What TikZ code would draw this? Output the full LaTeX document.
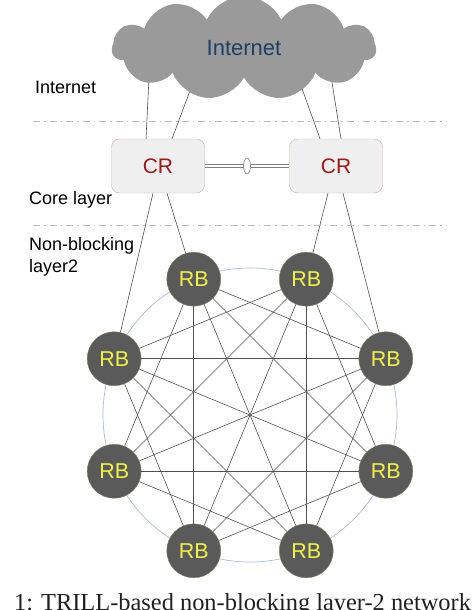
\documentclass[tikz,border=0pt]{standalone}
\usepackage{fontspec}
\setmainfont{Liberation Sans}
\newfontfamily\capfont{Liberation Serif}
\usepackage{tikz}
\usetikzlibrary{calc,positioning,backgrounds,shapes.symbols,shapes.geometric}
\definecolor{cloudgray}{HTML}{9A9A9A}
\definecolor{netblue}{HTML}{1F3F66}
\definecolor{crred}{HTML}{A01818}
\definecolor{crline}{HTML}{D4A8A8}
\definecolor{crfill}{HTML}{EFEFEF}
\definecolor{rbgray}{HTML}{5A5A5A}
\definecolor{rbyellow}{HTML}{F2F04A}
\definecolor{ringblue}{HTML}{A8BCD8}
\definecolor{wiregray}{HTML}{505050}
\definecolor{sepgray}{HTML}{BBBBBB}

\begin{document}
\begin{tikzpicture}[x=1pt,y=-1pt,
  layertext/.style={font=\fontsize{18}{22}\selectfont,anchor=west,align=left,inner sep=0pt},
  crbox/.style={draw=crline,fill=crfill,rounded corners=8pt,minimum width=93pt,minimum height=54pt,text=crred,font=\fontsize{21}{24}\selectfont},
  rbnode/.style={circle,fill=rbgray,draw=rbgray!75!rbyellow,minimum size=54pt,inner sep=0pt,text=rbyellow,font=\fontsize{21.5}{24}\selectfont},
  wire/.style={wiregray,line width=0.6pt},
  sepline/.style={sepgray,line width=0.8pt,dash pattern=on 7pt off 4pt on 1.5pt off 4pt}]
  \useasboundingbox (0,0) rectangle (474,610);
  % cloud and layers
  \node[cloud,cloud puffs=11,cloud puff arc=130,aspect=2.6,fill=cloudgray,minimum width=264pt,minimum height=104pt,
        text=netblue,font=\fontsize{22}{26}\selectfont] (net) at (244,48) {Internet};
  \node[layertext] (lnet) at (35,87) {Internet};
  \node[layertext] (lcore) at (29,200) {Core layer};
  \node[layertext] (ll2) at (29,257) {Non-blocking\\layer2};
  \draw[sepline] (33,121) -- (447,121);
  \draw[sepline] (33,225) -- (447,225);
  % core routers
  \node[crbox] (crl) at (158,166) {CR};
  \node[crbox] (crr) at (336,166) {CR};
  \draw[gray,line width=0.6pt,double=white,double distance=2.4pt] (crl) -- (crr)
    node[midway,ellipse,draw=gray,fill=white,line width=0.6pt,minimum width=7pt,minimum height=16pt,inner sep=0pt] (lag) {};
  % rbridges
  \foreach \i in {0,...,7}
    \node[rbnode] (rb\i) at ({250+147*cos(22.5+45*\i)},{415-147*sin(22.5+45*\i)}) {RB};
  \node[font=\capfont\fontsize{24.4}{28}\selectfont,text=black!88,anchor=base,inner sep=0pt] (cap) at (242.5,610)
    {1: TRILL-based non-blocking layer-2 network};
  \begin{scope}[on background layer]
    \draw[ringblue,line width=0.7pt] (250,415) circle[radius=147];
    \foreach \i in {0,...,7}
      \foreach \s in {2,3}
        {\pgfmathtruncatemacro{\j}{mod(\i+\s,8)}
         \draw[wire] (rb\i) -- (rb\j);}
    \foreach \i in {0,...,3}
      {\pgfmathtruncatemacro{\j}{\i+4}
       \draw[wire] (rb\i) -- (rb\j);}
    \draw[wire] ($(crl.north)+(-12,0)$) -- ($(net.center)+(-95,30)$);
    \draw[wire] ($(crl.north)+(14,0)$) -- ($(net.center)+(-53,40)$);
    \draw[wire] ($(crr.north)+(-16,0)$) -- ($(net.center)+(56,35)$);
    \draw[wire] ($(crr.north)+(5,0)$) -- ($(net.center)+(87,28)$);
    \draw[wire] ($(crl.south)+(-5,0)$) -- (rb3);
    \draw[wire] ($(crl.south)+(9,0)$) -- (rb2);
    \draw[wire] ($(crr.south)+(-8,0)$) -- (rb1);
    \draw[wire] ($(crr.south)+(7,0)$) -- (rb0);
  \end{scope}
\end{tikzpicture}
\end{document}
